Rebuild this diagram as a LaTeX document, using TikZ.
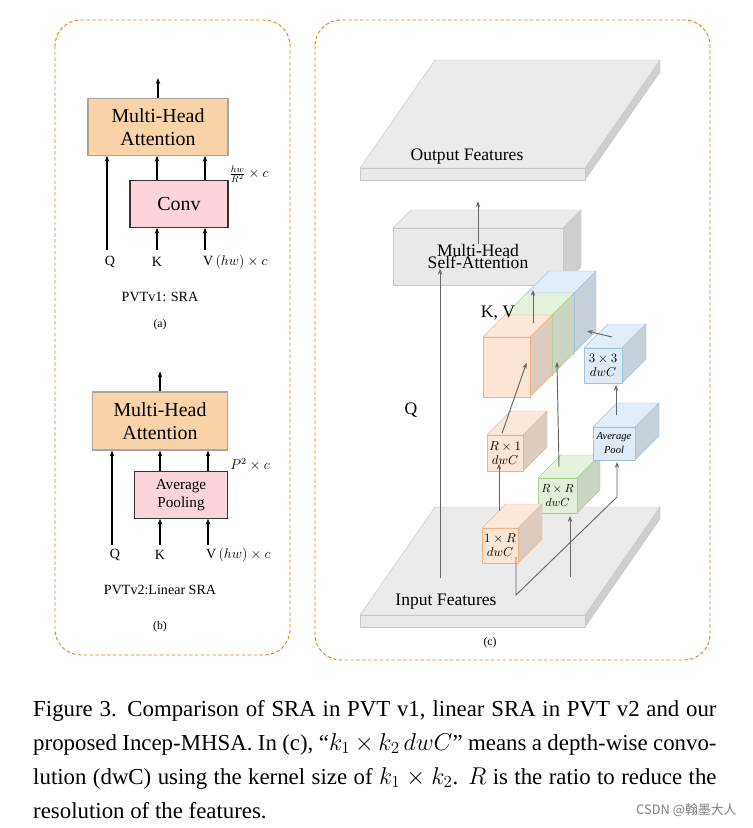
\documentclass[tikz,border=0pt]{standalone}
\usepackage{fontspec}
\setmainfont{Liberation Serif}
\newfontfamily\cjk{Noto Sans CJK SC}
\usetikzlibrary{arrows.meta,calc}
\definecolor{orF}{HTML}{FBE5D6}\definecolor{orB}{HTML}{F4B183}
\definecolor{grF}{HTML}{E2F0D9}\definecolor{grB}{HTML}{A9D18E}
\definecolor{blF}{HTML}{DEEBF7}\definecolor{blB}{HTML}{9DC3E6}
\definecolor{gyF}{HTML}{E9E9E9}\definecolor{gyB}{HTML}{C8C8C8}
\definecolor{mhaF}{HTML}{FAD3A8}\definecolor{cvF}{HTML}{FDD3DC}
% #1 name, #2 #3 front upper left, #4 #5 front lower right, #6 #7 depth, #8 colour, #9 text
\newcommand{\cube}[9]
{
\fill[#8F!75!gray] (#4,#3) -- ++(#6,-#7) -- ++(0,#5-#3) -- (#4,#5) -- cycle;
\draw[#8B] (#4,#3) -- ++(#6,-#7) -- ++(0,#5-#3) -- (#4,#5);
\filldraw[fill=#8F!90!white,draw=#8B] (#2,#3) -- ++(#6,-#7) -- ++(#4-#2,0) -- (#4,#3) -- cycle;
\filldraw[fill=#8F,draw=#8B] (#2,#3) rectangle (#4,#5);
\path ($(#2,#3)!0.5!(#4,#5)$) node[align=center,inner sep=0pt] (#1) {#9};
}
\tikzstyle{panel}=[draw=orange!80!brown,densely dashed,rounded corners=22pt,line width=0.8pt]
\tikzstyle{blk}=[-{Stealth[length=5pt]}, line width=1.4pt]
\tikzstyle{gar}=[-{Stealth[length=5pt]}, gray!80!black, line width=0.8pt]
\tikzstyle{bx}=[draw, line width=0.9pt, minimum height=14mm, align=center, inner sep=0pt]
\begin{document}
\begin{tikzpicture}[x=0.3mm,y=-0.3mm]
\useasboundingbox (0,0) rectangle (753,828);
\fill[white] (0,0) rectangle (753,828);
\draw[panel] (55,20) rectangle (290,655);
\draw[panel] (315,20) rectangle (710,660);
% (a)
\node[bx,fill=mhaF,draw=gray!70,minimum width=42mm,minimum height=17mm,font=\fontsize{17}{20}\selectfont] (mha1) at (158,127) {Multi-Head\\Attention};
\node[bx,fill=cvF,draw=black!80,minimum width=29.4mm,font=\fontsize{17}{20}\selectfont] (conv) at (179,204) {Conv};
\coordinate (q1) at (107,250); \coordinate (k1) at (157,250); \coordinate (v1) at (205,250);
\draw[blk] (mha1.north) -- ++(0,-20);
\draw[blk] (q1) -- (q1|-mha1.south);
\draw[blk] (k1) -- (k1|-conv.south);
\draw[blk] (v1) -- (v1|-conv.south);
\draw[blk] (k1|-conv.north) -- (k1|-mha1.south);
\draw[blk] (v1|-conv.north) -- (v1|-mha1.south);
\node[font=\fontsize{12}{14}\selectfont] at (249,174) {$\frac{hw}{R^2}\times c$};
\node[font=\fontsize{12}{14}\selectfont] at (110,262) {Q};
\node[font=\fontsize{12}{14}\selectfont] at (157,262) {K};
\node[font=\fontsize{12}{14}\selectfont,anchor=west] at (199,262) {V\,$(hw)\times c$};
\node[font=\fontsize{12}{14}\selectfont] at (160,297) {PVTv1: SRA};
\node[font=\fontsize{10}{12}\selectfont] at (160,325) {(a)};
% (b)
\node[bx,fill=mhaF,draw=gray!70,minimum width=40.5mm,minimum height=17.4mm,font=\fontsize{17}{20}\selectfont] (mha2) at (160,421) {Multi-Head\\Attention};
\node[bx,fill=cvF,draw=black!80,minimum width=27.9mm,font=\fontsize{13}{15}\selectfont] (pool) at (181,495) {Average\\Pooling};
\coordinate (q2) at (112,545); \coordinate (k2) at (160,545); \coordinate (v2) at (208,545);
\draw[blk] (mha2.north) -- ++(0,-20);
\draw[blk] (q2) -- (q2|-mha2.south);
\draw[blk] (k2) -- (k2|-pool.south);
\draw[blk] (v2) -- (v2|-pool.south);
\draw[blk] (k2|-pool.north) -- (k2|-mha2.south);
\draw[blk] (v2|-pool.north) -- (v2|-mha2.south);
\node[font=\fontsize{12}{14}\selectfont] at (250,465) {$P^2\times c$};
\node[font=\fontsize{12}{14}\selectfont] at (115,555) {Q};
\node[font=\fontsize{12}{14}\selectfont] at (160,555) {K};
\node[font=\fontsize{12}{14}\selectfont,anchor=west] at (202,555) {V\,$(hw)\times c$};
\node[font=\fontsize{12}{14}\selectfont] at (160,590) {PVTv2:Linear SRA};
\node[font=\fontsize{10}{12}\selectfont] at (160,627) {(b)};
% (c)
\cube{outf}{360}{168}{585}{180}{75}{108}{gy}{}
\cube{inf}{360}{615}{585}{627}{75}{108}{gy}{}
\node[font=\fontsize{15}{18}\selectfont] (outl) at (467,157) {Output Features};
\node[font=\fontsize{15}{18}\selectfont] (inl) at (446,602) {Input Features};
\cube{mhsa}{393}{228}{563}{285}{18}{18}{gy}{\fontsize{15}{18}\selectfont Multi-Head\\[-2pt]\fontsize{15}{18}\selectfont Self-Attention}
\draw[gar] (mhsa.north) -- ++(0,-43);
\cube{kvb}{527}{293}{574}{353}{22}{22}{bl}{}
\cube{kvg}{505}{315}{552}{375}{22}{22}{gr}{}
\cube{kvo}{483}{337}{530}{397}{22}{22}{or}{}
\cube{rr}{538}{478}{577}{513}{23}{23}{gr}{\fontsize{10}{12}\selectfont$R\times R$\\\fontsize{10}{12}\selectfont$dwC$}
\cube{onr}{482}{528}{518}{563}{24}{24}{or}{\fontsize{11}{13}\selectfont$1\times R$\\\fontsize{11}{13}\selectfont$dwC$}
\cube{rone}{487}{435}{523}{471}{24}{24}{or}{\fontsize{11}{13}\selectfont$R\times 1$\\\fontsize{11}{13}\selectfont$dwC$}
\cube{avg}{593}{427}{635}{460}{24}{24}{bl}{\fontsize{9}{11}\selectfont\itshape Average\\\fontsize{9}{11}\selectfont\itshape Pool}
\cube{thr}{584}{348}{622}{383}{24}{24}{bl}{\fontsize{11}{13}\selectfont$3\times 3$\\\fontsize{11}{13}\selectfont$dwC$}
\node[font=\fontsize{15}{18}\selectfont] (kvl) at (498,313) {K, V};
\node[font=\fontsize{15}{18}\selectfont] (ql) at (411,410) {Q};
\node[font=\fontsize{10}{12}\selectfont] (cl) at (490,643) {(c)};
\coordinate (qs) at (440,578);
\draw[gar] (qs) -- (qs|-mhsa.south);
\draw[gar] (533,323) -- (533,290);
\draw[gar] ($(onr.north)+(-1,-23)$) -- ($(rone.south)+(-6,-1)$);
\draw[gar] ($(rone.north)+(-3,-8)$) -- ($(kvo.south)+(20,-5)$);
\draw[gar] (570,577) -- (570,516);
\draw[gar] (559,467) -- (557,362);
\coordinate (bend) at (516,595);
\draw[gar] (onr.south-|bend) -- (bend) -- (617,497) -- (617,462);
\draw[gar] (616,415) -- (616,385);
\draw[gar] (612,337) -- (587,331);
% caption
\node[anchor=north west,text width=205mm,align=justify,inner sep=0pt,font=\fontsize{19.5}{29}\selectfont] (cap) at (33,700)
{Figure 3. Comparison of SRA in PVT v1, linear SRA in PVT v2 and our proposed Incep-MHSA. In (c), ``$k_1\times k_2\, dwC$'' means a depth-wise convolution ($\mathrm{dwC}$) using the kernel size of $k_1\times k_2$. $R$ is the ratio to reduce the resolution of the features.};
\node[anchor=east,font=\cjk\fontsize{11}{13}\selectfont,text=gray,fill=white,inner sep=1pt] (wm) at (738,810) {CSDN @翰墨大人};
\end{tikzpicture}
\end{document}
